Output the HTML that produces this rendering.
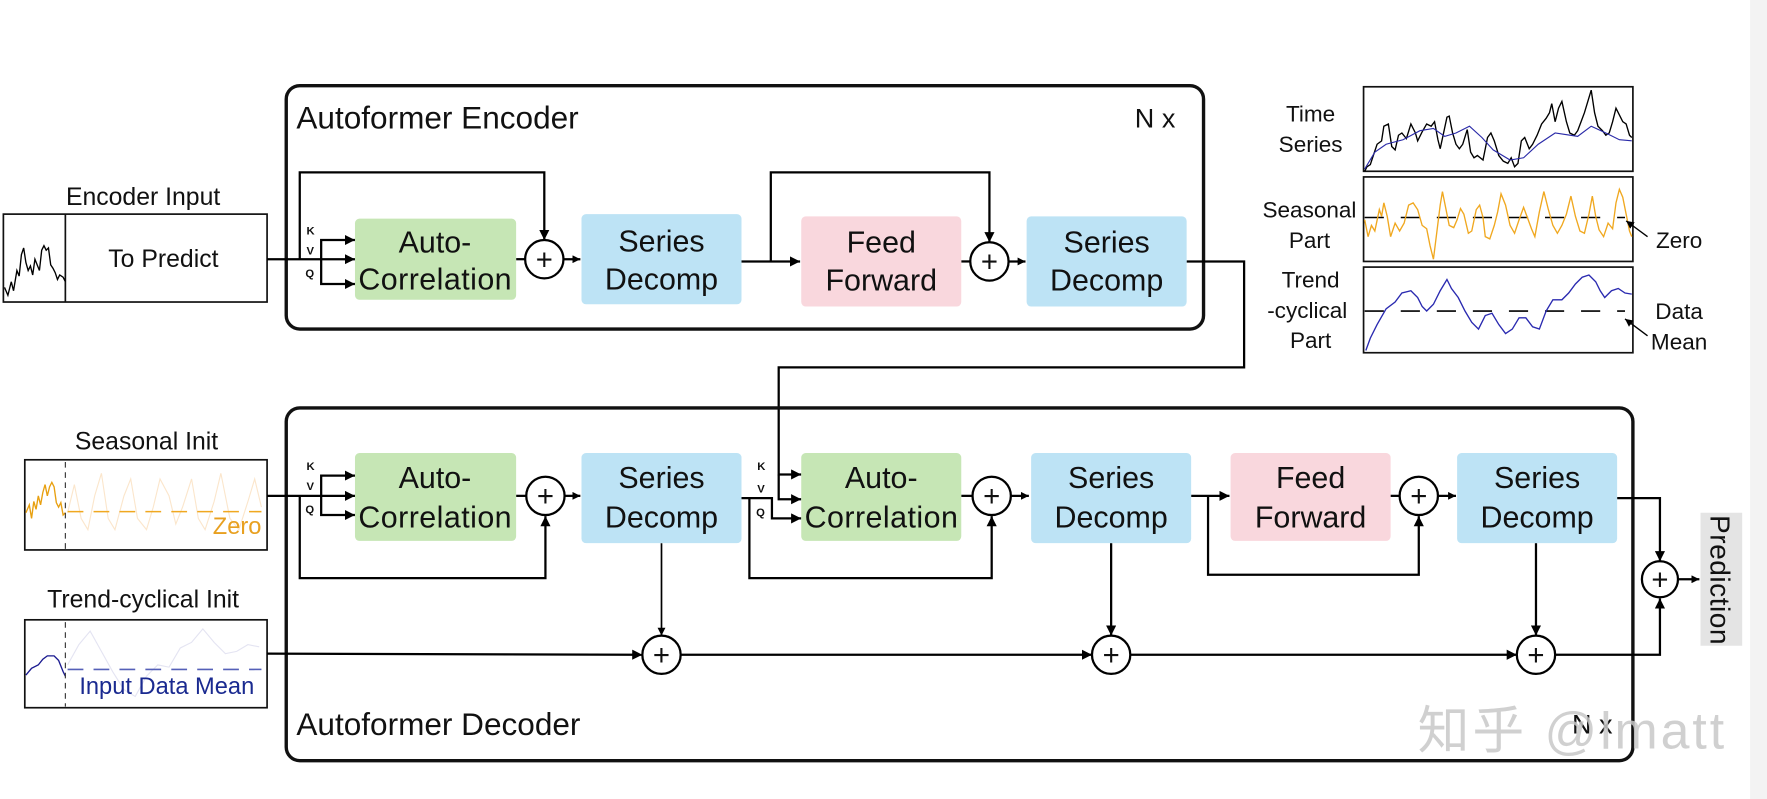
<!DOCTYPE html>
<html><head><meta charset="utf-8">
<style>
html,body{margin:0;padding:0;background:#fff;}
svg{display:block;}
text{font-family:"Liberation Sans","Noto Sans CJK SC",sans-serif;fill:#111;}
</style></head>
<body>
<svg width="1767" height="799" viewBox="0 0 1568 709" preserveAspectRatio="none" xmlns="http://www.w3.org/2000/svg">
<defs>
<marker id="a" viewBox="0 0 10 10" refX="10" refY="5" markerWidth="9" markerHeight="9" markerUnits="userSpaceOnUse" orient="auto"><path d="M0,0 L10,5 L0,10 z" fill="#000"/></marker>
<marker id="s" viewBox="0 0 10 10" refX="10" refY="5" markerWidth="7" markerHeight="7" markerUnits="userSpaceOnUse" orient="auto"><path d="M0,0 L10,5 L0,10 z" fill="#000"/></marker>
</defs>
<rect x="0" y="0" width="1568" height="709" fill="#fff"/>
<rect x="1553" y="0" width="15" height="709" fill="#f3f3f3"/>

<!-- Encoder box -->
<rect x="254" y="76" width="814" height="216" rx="12" fill="none" stroke="#111" stroke-width="3"/>
<text x="263" y="114" font-size="28">Autoformer Encoder</text>
<text x="1007" y="113" font-size="24">N x</text>

<!-- Encoder input -->
<text x="127" y="182" font-size="22" text-anchor="middle">Encoder Input</text>
<rect x="3" y="190" width="234" height="78" fill="none" stroke="#111" stroke-width="1.5"/>
<line x1="58" y1="190" x2="58" y2="268" stroke="#111" stroke-width="1.5"/>
<polyline fill="none" stroke="#000" stroke-width="1.2" points="4,255 7,262 10,250 12,258 15,240 17,245 19,226 21,220 23,233 25,240 27,236 29,244 31,230 33,235 35,240 37,222 39,218 41,222 43,220 45,235 47,238 49,242 51,248 53,244 56,246 58,250"/>
<text x="145" y="237" font-size="22" text-anchor="middle">To Predict</text>

<!-- encoder flow -->
<g stroke="#000" stroke-width="2" fill="none">
<line x1="237" y1="230" x2="315" y2="230" marker-end="url(#a)"/>
<path d="M285,230 V213 H315" marker-end="url(#a)"/>
<path d="M285,230 V252 H315" marker-end="url(#a)"/>
<path d="M266,230 V153 H483 V213" marker-end="url(#a)"/>
<line x1="458" y1="230" x2="466" y2="230"/>
<line x1="500" y1="230" x2="515" y2="230" marker-end="url(#s)"/>
<line x1="658" y1="232" x2="710" y2="232" marker-end="url(#a)"/>
<path d="M684,232 V153 H878 V215" marker-end="url(#a)"/>
<line x1="853" y1="232" x2="861" y2="232"/>
<line x1="895" y1="232" x2="910" y2="232" marker-end="url(#s)"/>
<path d="M1053,232 H1104 V326 H691 V421 H711" marker-end="url(#a)"/>
<path d="M691,421 V443 H711" marker-end="url(#a)"/>
</g>
<text x="272" y="208" font-size="10" font-weight="bold">K</text>
<text x="272" y="226" font-size="10" font-weight="bold">V</text>
<text x="271" y="246" font-size="10" font-weight="bold">Q</text>

<rect x="315" y="194" width="143" height="72" rx="4" fill="#c6e6b5"/>
<text x="386" y="224" font-size="27" text-anchor="middle">Auto-</text>
<text x="386" y="257" font-size="27" text-anchor="middle" textLength="136">Correlation</text>
<circle cx="483" cy="230" r="17" fill="#fff" stroke="#000" stroke-width="2"/>
<text x="483" y="239" font-size="26" text-anchor="middle">+</text>
<rect x="516" y="190" width="142" height="80" rx="4" fill="#bde3f5"/>
<text x="587" y="223" font-size="27" text-anchor="middle">Series</text>
<text x="587" y="257" font-size="27" text-anchor="middle">Decomp</text>
<rect x="711" y="192" width="142" height="80" rx="4" fill="#f9d7dd"/>
<text x="782" y="224" font-size="27" text-anchor="middle">Feed</text>
<text x="782" y="258" font-size="27" text-anchor="middle">Forward</text>
<circle cx="878" cy="232" r="17" fill="#fff" stroke="#000" stroke-width="2"/>
<text x="878" y="241" font-size="26" text-anchor="middle">+</text>
<rect x="911" y="192" width="142" height="80" rx="4" fill="#bde3f5"/>
<text x="982" y="224" font-size="27" text-anchor="middle">Series</text>
<text x="982" y="258" font-size="27" text-anchor="middle">Decomp</text>

<!-- right panel -->
<text x="1163" y="108" font-size="20" text-anchor="middle">Time</text>
<text x="1163" y="135" font-size="20" text-anchor="middle">Series</text>
<text x="1162" y="193" font-size="20" text-anchor="middle">Seasonal</text>
<text x="1162" y="220" font-size="20" text-anchor="middle">Part</text>
<text x="1163" y="255" font-size="20" text-anchor="middle">Trend</text>
<text x="1160" y="282" font-size="20" text-anchor="middle">-cyclical</text>
<text x="1163" y="309" font-size="20" text-anchor="middle">Part</text>
<text x="1490" y="220" font-size="20" text-anchor="middle">Zero</text>
<text x="1490" y="283" font-size="20" text-anchor="middle">Data</text>
<text x="1490" y="310" font-size="20" text-anchor="middle">Mean</text>
<rect x="1210" y="77" width="239" height="75" fill="none" stroke="#111" stroke-width="1.5"/>
<rect x="1210" y="157" width="239" height="75" fill="none" stroke="#111" stroke-width="1.5"/>
<rect x="1210" y="237" width="239" height="76" fill="none" stroke="#111" stroke-width="1.5"/>
<polyline fill="none" stroke="#000" stroke-width="1.2" points="1211,152 1213,148 1216,146 1218,140 1222,128 1226,125 1228,112 1232,110 1235,130 1238,133 1241,120 1244,118 1248,123 1252,110 1256,118 1258,125 1262,117 1266,110 1270,112 1273,108 1276,124 1278,132 1281,118 1284,104 1286,103 1289,118 1292,128 1295,132 1298,128 1302,115 1305,135 1308,140 1311,138 1316,142 1320,122 1323,118 1326,125 1330,138 1334,143 1338,145 1341,140 1344,148 1347,145 1350,125 1353,122 1357,132 1360,128 1364,120 1368,110 1372,105 1375,100 1377,92 1380,108 1383,96 1386,90 1390,108 1393,118 1397,120 1400,116 1403,108 1406,100 1409,90 1412,80 1415,100 1418,112 1422,116 1425,120 1428,118 1431,108 1434,96 1437,102 1440,108 1443,110 1446,120 1448,122"/>
<polyline fill="none" stroke="#2a2aa8" stroke-width="1" points="1211,150 1220,135 1230,128 1245,124 1260,116 1272,114 1282,121 1292,118 1304,112 1315,122 1325,133 1340,142 1352,140 1365,128 1380,118 1400,121 1412,112 1425,118 1437,124 1448,125"/>
<line x1="1211" y1="193" x2="1442" y2="193" stroke="#000" stroke-width="1.4" stroke-dasharray="17,15"/>
<polyline fill="none" stroke="#f0a820" stroke-width="1.2" points="1211,195 1214,210 1217,200 1220,205 1224,186 1226,192 1228,180 1231,192 1234,210 1238,198 1242,205 1246,198 1250,182 1254,180 1258,186 1262,200 1266,203 1269,218 1272,230 1275,206 1278,182 1280,170 1283,185 1286,200 1290,202 1293,195 1296,185 1299,190 1303,207 1306,205 1310,186 1313,182 1316,193 1318,210 1322,212 1326,200 1329,188 1332,172 1336,182 1340,200 1344,207 1348,195 1352,184 1355,192 1359,203 1362,210 1366,188 1370,170 1374,186 1378,200 1382,207 1386,200 1390,190 1394,174 1398,192 1402,205 1406,207 1410,190 1413,174 1416,192 1419,204 1423,210 1427,198 1431,203 1434,180 1437,168 1440,175 1443,190 1446,205 1448,210"/>
<line x1="1211" y1="276" x2="1442" y2="276" stroke="#000" stroke-width="1.4" stroke-dasharray="17,15"/>
<polyline fill="none" stroke="#2a2ab0" stroke-width="1.2" points="1212,311 1216,300 1222,288 1230,274 1238,268 1244,260 1252,258 1258,264 1262,272 1266,276 1272,270 1278,258 1284,248 1288,256 1294,264 1300,276 1306,286 1312,292 1318,280 1324,278 1330,288 1336,296 1342,292 1348,282 1354,282 1360,290 1366,292 1372,276 1378,266 1386,266 1392,260 1398,252 1404,246 1410,244 1416,250 1420,258 1424,264 1430,258 1436,256 1442,260 1448,261"/>
<path d="M1462,210 L1443,196" stroke="#000" stroke-width="1.2" marker-end="url(#s)"/>
<path d="M1462,298 L1442,283" stroke="#000" stroke-width="1.2" marker-end="url(#s)"/>

<!-- Decoder box -->
<rect x="254" y="362" width="1195" height="313" rx="12" fill="none" stroke="#111" stroke-width="3"/>
<text x="263" y="652" font-size="28">Autoformer Decoder</text>
<text x="1395" y="651" font-size="24">N x</text>

<!-- Seasonal init -->
<text x="130" y="399" font-size="22" text-anchor="middle">Seasonal Init</text>
<rect x="22" y="408" width="215" height="80" fill="none" stroke="#111" stroke-width="1.5"/>
<polyline fill="none" stroke="#fbe6cc" stroke-width="1" points="60,455 66,430 72,460 78,470 84,440 90,420 96,460 102,470 110,440 116,425 122,460 130,470 136,450 142,425 150,440 156,465 162,450 170,425 176,460 182,470 190,445 196,420 204,460 212,470 220,445 226,425 232,450"/>
<line x1="60" y1="454" x2="232" y2="454" stroke="#f0a820" stroke-width="1.4" stroke-dasharray="14,9"/>
<polyline fill="none" stroke="#e8a010" stroke-width="1.2" points="23,455 26,448 28,460 30,445 32,452 34,440 36,448 38,437 40,430 42,440 44,432 46,428 48,432 50,446 52,450 54,446 56,457 58,455"/>
<line x1="58" y1="410" x2="58" y2="487" stroke="#333" stroke-width="1" stroke-dasharray="5,4"/>
<text x="232" y="474" font-size="21" text-anchor="end" style="fill:#e8a020">Zero</text>

<!-- Trend init -->
<text x="127" y="539" font-size="22" text-anchor="middle">Trend-cyclical Init</text>
<rect x="22" y="550" width="215" height="78" fill="none" stroke="#111" stroke-width="1.5"/>
<polyline fill="none" stroke="#e4e4f2" stroke-width="1" points="60,590 70,572 80,560 90,578 100,596 110,612 120,618 130,600 140,590 150,592 160,575 170,570 180,558 190,570 200,580 210,578 220,572 230,574"/>
<line x1="60" y1="594" x2="232" y2="594" stroke="#5560b8" stroke-width="1.4" stroke-dasharray="14,9"/>
<polyline fill="none" stroke="#1a1a90" stroke-width="1.2" points="23,599 28,593 34,590 38,585 42,582 48,582 52,586 56,596 58,600"/>
<line x1="58" y1="552" x2="58" y2="627" stroke="#333" stroke-width="1" stroke-dasharray="5,4"/>
<text x="148" y="616" font-size="21" text-anchor="middle" style="fill:#1a2a90">Input Data Mean</text>

<!-- decoder flow -->
<g stroke="#000" stroke-width="2" fill="none">
<line x1="237" y1="440" x2="315" y2="440" marker-end="url(#a)"/>
<path d="M285,440 V422 H315" marker-end="url(#a)"/>
<path d="M285,440 V457 H315" marker-end="url(#a)"/>
<path d="M266,440 V513 H484 V458" marker-end="url(#a)"/>
<line x1="458" y1="440" x2="467" y2="440"/>
<line x1="501" y1="440" x2="515" y2="440" marker-end="url(#s)"/>
<path d="M658,442 H685 V460 H711" marker-end="url(#a)"/>
<path d="M665,442 V513 H880 V458" marker-end="url(#a)"/>
<line x1="853" y1="440" x2="863" y2="440"/>
<line x1="897" y1="440" x2="913" y2="440" marker-end="url(#s)"/>
<line x1="1057" y1="440" x2="1091" y2="440" marker-end="url(#a)"/>
<path d="M1072,440 V510 H1259 V458" marker-end="url(#a)"/>
<line x1="1234" y1="440" x2="1242" y2="440"/>
<line x1="1276" y1="440" x2="1292" y2="440" marker-end="url(#s)"/>
<path d="M1435,442 H1473 V498" marker-end="url(#a)"/>
<line x1="1489" y1="514" x2="1508" y2="514" marker-end="url(#s)"/>
<line x1="237" y1="580" x2="570" y2="581" marker-end="url(#a)"/>
<line x1="604" y1="581" x2="969" y2="581" marker-end="url(#a)"/>
<line x1="1003" y1="581" x2="1346" y2="581" marker-end="url(#a)"/>
<path d="M1380,581 H1473 V531" marker-end="url(#a)"/>
<line x1="587" y1="482" x2="587" y2="564" marker-end="url(#s)" stroke-width="1.5"/>
<line x1="986" y1="482" x2="986" y2="564" marker-end="url(#a)"/>
<line x1="1363" y1="482" x2="1363" y2="564" marker-end="url(#a)"/>
</g>
<text x="272" y="417" font-size="10" font-weight="bold">K</text>
<text x="272" y="435" font-size="10" font-weight="bold">V</text>
<text x="271" y="455" font-size="10" font-weight="bold">Q</text>
<text x="672" y="417" font-size="10" font-weight="bold">K</text>
<text x="672" y="437" font-size="10" font-weight="bold">V</text>
<text x="671" y="458" font-size="10" font-weight="bold">Q</text>

<rect x="315" y="402" width="143" height="78" rx="4" fill="#c6e6b5"/>
<text x="386" y="433" font-size="27" text-anchor="middle">Auto-</text>
<text x="386" y="468" font-size="27" text-anchor="middle" textLength="136">Correlation</text>
<circle cx="484" cy="440" r="17" fill="#fff" stroke="#000" stroke-width="2"/>
<text x="484" y="449" font-size="26" text-anchor="middle">+</text>
<rect x="516" y="402" width="142" height="80" rx="4" fill="#bde3f5"/>
<text x="587" y="433" font-size="27" text-anchor="middle">Series</text>
<text x="587" y="468" font-size="27" text-anchor="middle">Decomp</text>
<rect x="711" y="402" width="142" height="78" rx="4" fill="#c6e6b5"/>
<text x="782" y="433" font-size="27" text-anchor="middle">Auto-</text>
<text x="782" y="468" font-size="27" text-anchor="middle" textLength="136">Correlation</text>
<circle cx="880" cy="440" r="17" fill="#fff" stroke="#000" stroke-width="2"/>
<text x="880" y="449" font-size="26" text-anchor="middle">+</text>
<rect x="915" y="402" width="142" height="80" rx="4" fill="#bde3f5"/>
<text x="986" y="433" font-size="27" text-anchor="middle">Series</text>
<text x="986" y="468" font-size="27" text-anchor="middle">Decomp</text>
<rect x="1092" y="402" width="142" height="78" rx="4" fill="#f9d7dd"/>
<text x="1163" y="433" font-size="27" text-anchor="middle">Feed</text>
<text x="1163" y="468" font-size="27" text-anchor="middle">Forward</text>
<circle cx="1259" cy="440" r="17" fill="#fff" stroke="#000" stroke-width="2"/>
<text x="1259" y="449" font-size="26" text-anchor="middle">+</text>
<rect x="1293" y="402" width="142" height="80" rx="4" fill="#bde3f5"/>
<text x="1364" y="433" font-size="27" text-anchor="middle">Series</text>
<text x="1364" y="468" font-size="27" text-anchor="middle">Decomp</text>

<circle cx="587" cy="581" r="17" fill="#fff" stroke="#000" stroke-width="2"/>
<text x="587" y="590" font-size="26" text-anchor="middle">+</text>
<circle cx="986" cy="581" r="17" fill="#fff" stroke="#000" stroke-width="2"/>
<text x="986" y="590" font-size="26" text-anchor="middle">+</text>
<circle cx="1363" cy="581" r="17" fill="#fff" stroke="#000" stroke-width="2"/>
<text x="1363" y="590" font-size="26" text-anchor="middle">+</text>
<circle cx="1473" cy="514" r="16" fill="#fff" stroke="#000" stroke-width="2"/>
<text x="1473" y="523" font-size="26" text-anchor="middle">+</text>

<rect x="1509" y="455" width="37" height="118" fill="#e4e4e4"/>
<text x="0" y="0" font-size="25" transform="translate(1518,457) rotate(90)" textLength="115">Prediction</text>

<!-- watermark -->
<text x="1258" y="664" font-size="46" textLength="272" style="fill:#c8c8c8;fill-opacity:0.85">知乎 @lmatt</text>
</svg>
</body></html>
